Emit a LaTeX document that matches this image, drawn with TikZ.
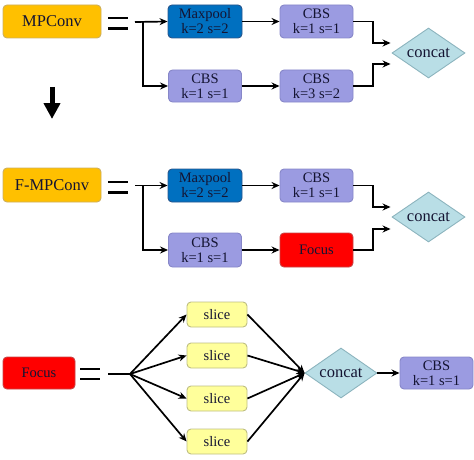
\documentclass[tikz,border=0pt]{standalone}
\usepackage{fontspec}
\setmainfont{Liberation Serif}
\usetikzlibrary{shapes.geometric,arrows.meta,calc}
\definecolor{orangeF}{RGB}{255,192,0}
\definecolor{orangeD}{RGB}{205,175,95}
\definecolor{blueF}{RGB}{0,112,192}
\definecolor{blueD}{RGB}{40,85,140}
\definecolor{cbsF}{RGB}{155,155,225}
\definecolor{cbsD}{RGB}{135,135,200}
\definecolor{ccF}{RGB}{185,222,230}
\definecolor{ccD}{RGB}{140,180,190}
\definecolor{redF}{RGB}{255,0,0}
\definecolor{redD}{RGB}{200,70,70}
\definecolor{slF}{RGB}{255,255,155}
\definecolor{slD}{RGB}{190,190,130}
\definecolor{txtD}{RGB}{20,20,50}
\tikzset{
  box/.style={rounded corners=4pt, line width=0.9pt, align=center, inner sep=0pt,
    text=txtD, font=\fontsize{14.5}{15}\selectfont},
  mpbox/.style={box, fill=orangeF, draw=orangeD, minimum width=98pt, minimum height=33pt,
    font=\fontsize{16.5}{17}\selectfont},
  poolbox/.style={box, fill=blueF, draw=blueD, minimum width=74pt, minimum height=33pt},
  cbsbox/.style={box, fill=cbsF, draw=cbsD, minimum width=73pt, minimum height=32pt},
  focbox/.style={box, fill=redF, draw=redD, minimum width=73pt, minimum height=33pt},
  slbox/.style={box, fill=slF, draw=slD, minimum width=60pt, minimum height=25pt},
  ccbox/.style={diamond, aspect=1.46, fill=ccF, draw=ccD, line width=0.9pt, inner sep=0pt,
    text=txtD, minimum width=73pt, minimum height=50pt, font=\fontsize{16.5}{17}\selectfont},
  arr/.style={line width=1.7pt, -{Stealth[length=8pt,width=7pt]}},
  eqline/.style={line width=2.4pt},
}
\begin{document}
\begin{tikzpicture}[x=1pt,y=-1pt]
\useasboundingbox (0,0) rectangle (474,460);
% ---------- Row 1 ----------
\node[mpbox] (mp1) at (52,21.5) {MPConv};
\draw[eqline] (108,18) -- (128,18);
\draw[eqline] (108,28.5) -- (128,28.5);
\coordinate (s1) at (135,22);
\coordinate (j1) at (143,22);
\node[poolbox] (pool1) at (205,21.5) {Maxpool\\k=2 s=2};
\node[cbsbox] (cbs1a) at (205,86) {CBS\\k=1 s=1};
\node[cbsbox, minimum height=33pt] (cbs1b) at (316.5,21.5) {CBS\\k=1 s=1};
\node[cbsbox] (cbs1c) at (316.5,86) {CBS\\k=3 s=2};
\node[ccbox] (cc1) at (428.5,53) {concat};
\draw[arr] (s1) -- (pool1.west);
\draw[arr] (j1) |- (cbs1a.west);
\draw[arr] (pool1.east) -- (cbs1b.west);
\draw[arr] (cbs1a.east) -- (cbs1c.west);
\coordinate (t1a) at ($(cc1.west)+(-1,-10)$);
\coordinate (t1b) at ($(cc1.west)+(-1,11)$);
\draw[arr] (cbs1b.east) -- (373,21.5) |- (t1a);
\draw[arr] (cbs1c.east) -- (373,86) |- (t1b);
% down arrow
\coordinate (da) at (52,87);
\coordinate (db) at (52,119);
\draw[line width=5pt, -{Triangle[length=16pt,width=16pt]}] (da) -- (db);
% ---------- Row 2 ----------
\node[mpbox, minimum height=34pt] (mp2) at (52,185) {F-MPConv};
\draw[eqline] (108,182) -- (128,182);
\draw[eqline] (108,192.5) -- (128,192.5);
\coordinate (s2) at (135,185.5);
\coordinate (j2) at (143,185.5);
\node[poolbox] (pool2) at (205,185.5) {Maxpool\\k=2 s=2};
\node[cbsbox, minimum height=34pt] (cbs2a) at (205,250) {CBS\\k=1 s=1};
\node[cbsbox, minimum height=33pt] (cbs2b) at (316.5,185.5) {CBS\\k=1 s=1};
\node[focbox, minimum height=34pt] (foc2) at (316.5,250) {Focus};
\node[ccbox] (cc2) at (428.5,217) {concat};
\draw[arr] (s2) -- (pool2.west);
\draw[arr] (j2) |- (cbs2a.west);
\draw[arr] (pool2.east) -- (cbs2b.west);
\draw[arr] (cbs2a.east) -- (foc2.west);
\coordinate (t2a) at ($(cc2.west)+(-1,-10)$);
\coordinate (t2b) at ($(cc2.west)+(-1,12)$);
\draw[arr] (cbs2b.east) -- (373,185.5) |- (t2a);
\draw[arr] (foc2.east) -- (373,250) |- (t2b);
% ---------- Row 3 ----------
\node[focbox, minimum width=72pt, minimum height=32pt] (foc3) at (39,373) {Focus};
\draw[eqline] (80,369) -- (100,369);
\draw[eqline] (80,379) -- (100,379);
\coordinate (s3) at (108,374);
\coordinate (f3) at (130,374);
\draw[line width=1.7pt] (s3) -- (f3);
\node[slbox] (sl1) at (217,314.5) {slice};
\node[slbox] (sl2) at (217,355.5) {slice};
\node[slbox] (sl3) at (217,398.5) {slice};
\node[slbox] (sl4) at (217,441.5) {slice};
\node[ccbox, minimum width=72pt] (cc3) at (341,373) {concat};
\node[cbsbox] (cbs3) at (436.5,373) {CBS\\k=1 s=1};
\foreach \s in {sl1,sl2,sl3,sl4}{
  \draw[arr] (f3) -- (\s.west);
  \draw[arr] (\s.east) -- (cc3.west);
}
\draw[arr] (cc3.east) -- (cbs3.west);
\end{tikzpicture}
\end{document}
